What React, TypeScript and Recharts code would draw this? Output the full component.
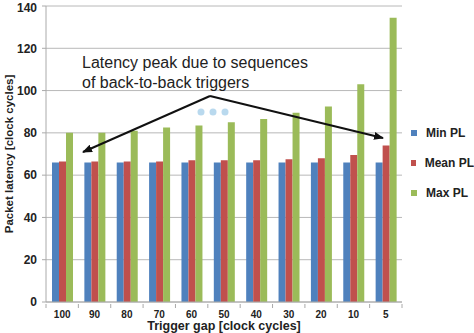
import React from "react";
import { BarChart, Bar, XAxis, YAxis, CartesianGrid, Label } from "recharts";

const categories = ["100", "90", "80", "70", "60", "50", "40", "30", "20", "10", "5"];
const minPL = [66, 66, 66, 66, 66, 66, 66, 66, 66, 66, 66];
const meanPL = [66.5, 66.5, 66.5, 66.5, 67, 67, 67, 67.5, 68, 69.5, 74];
const maxPL = [80, 80, 81, 82.5, 83.5, 85, 86.5, 89.5, 92.5, 103, 134.5];
const yTicks = [0, 20, 40, 60, 80, 100, 120, 140];

const data = categories.map((c, i) => ({ gap: c, min: minPL[i], mean: meanPL[i], max: maxPL[i] }));

const COLORS = { min: "#4F81BD", mean: "#C0504D", max: "#9BBB59" };
const FONT = "'Liberation Sans', Arial, sans-serif";
const CHART_W = 474;
const MARGIN = { top: 6, right: 72, bottom: 0, left: 0 };
const Y_W = 46;
const HALF_BAND = (CHART_W - MARGIN.right - MARGIN.left - Y_W) / categories.length / 2;

const legendItems = [
  { label: "Min PL", color: COLORS.min },
  { label: "Mean PL", color: COLORS.mean },
  { label: "Max PL", color: COLORS.max },
];

const XTick = (props: any) => {
  const { x, y, payload, index } = props;
  const isLast = index === categories.length - 1;
  return (
    <g>
      <line x1={x - HALF_BAND} x2={x - HALF_BAND} y1={y - 4} y2={y} stroke="#aaa" />
      {isLast && <line x1={x + HALF_BAND} x2={x + HALF_BAND} y1={y - 4} y2={y} stroke="#aaa" />}
      <text
        x={x}
        y={y + 10}
        textAnchor="middle"
        fontFamily={FONT}
        fontSize={10}
        fontWeight="bold"
        fill="#222"
      >
        {payload.value}
      </text>
    </g>
  );
};

export default function App() {
  return (
    <div style={{ position: "absolute", left: 0, top: 0, width: 474, height: 333, background: "#fff" }}>
      <BarChart
        width={CHART_W}
        height={333}
        data={data}
        margin={MARGIN}
        barGap={0}
        barSize={7}
      >
        <CartesianGrid vertical={false} stroke="#b8b8b8" strokeWidth={1} />
        <XAxis
          dataKey="gap"
          height={31}
          tick={<XTick />}
          tickLine={false}
          axisLine={{ stroke: "#aaa" }}
          interval={0}
          tickSize={4}
        >
          <Label
            value="Trigger gap [clock cycles]"
            position="insideBottom"
            offset={3}
            style={{ fontFamily: FONT, fontSize: 12.5, fontWeight: "bold", fill: "#222" }}
          />
        </XAxis>
        <YAxis
          width={Y_W}
          domain={[0, 140]}
          ticks={yTicks}
          tick={{ fontFamily: FONT, fontSize: 12, fontWeight: "bold", fill: "#222" }}
          tickLine={{ stroke: "#aaa" }}
          tickSize={4}
          axisLine={{ stroke: "#aaa" }}
          tickMargin={5}
        >
          <Label
            value="Packet latency [clock cycles]"
            angle={-90}
            position="insideLeft"
            offset={9}
            style={{ textAnchor: "middle", fontFamily: FONT, fontSize: 11.5, fontWeight: "bold", fill: "#222" }}
          />
        </YAxis>
        <Bar dataKey="min" name="Min PL" fill={COLORS.min} isAnimationActive={false} />
        <Bar dataKey="mean" name="Mean PL" fill={COLORS.mean} isAnimationActive={false} />
        <Bar dataKey="max" name="Max PL" fill={COLORS.max} isAnimationActive={false} />
      </BarChart>
      <div
        style={{
          position: "absolute",
          left: 411,
          top: 118,
          width: 63,
          fontFamily: FONT,
          fontWeight: "bold",
          fontSize: 12,
          color: "#222",
          whiteSpace: "nowrap",
        }}
      >
        {legendItems.map((it) => (
          <div key={it.label} style={{ display: "flex", alignItems: "center", height: 30 }}>
            <span style={{ display: "inline-block", width: 6, height: 6, background: it.color, marginRight: 9 }} />
            <span>{it.label}</span>
          </div>
        ))}
      </div>
      <svg
        width={474}
        height={333}
        style={{ position: "absolute", left: 0, top: 0, pointerEvents: "none" }}
      >
        <defs>
          <marker id="ah" markerWidth="10" markerHeight="8" refX="9" refY="4" orient="auto" markerUnits="userSpaceOnUse">
            <path d="M0,0 L10,4 L0,8 z" fill="#111" />
          </marker>
        </defs>
        <text x={82} y={68} fontFamily={FONT} fontSize={16} fill="#222">Latency peak due to sequences</text>
        <text x={82} y={88} fontFamily={FONT} fontSize={16} fill="#222">of back-to-back triggers</text>
        <line x1={210} y1={96} x2={83} y2={152} stroke="#111" strokeWidth={2} markerEnd="url(#ah)" />
        <line x1={210} y1={96} x2={383} y2={138} stroke="#111" strokeWidth={2} markerEnd="url(#ah)" />
        <circle cx={201} cy={112} r={3.5} fill="#b9d9ee" />
        <circle cx={213} cy={112} r={3.5} fill="#b9d9ee" />
        <circle cx={225} cy={112} r={3.5} fill="#b9d9ee" />
      </svg>
    </div>
  );
}
